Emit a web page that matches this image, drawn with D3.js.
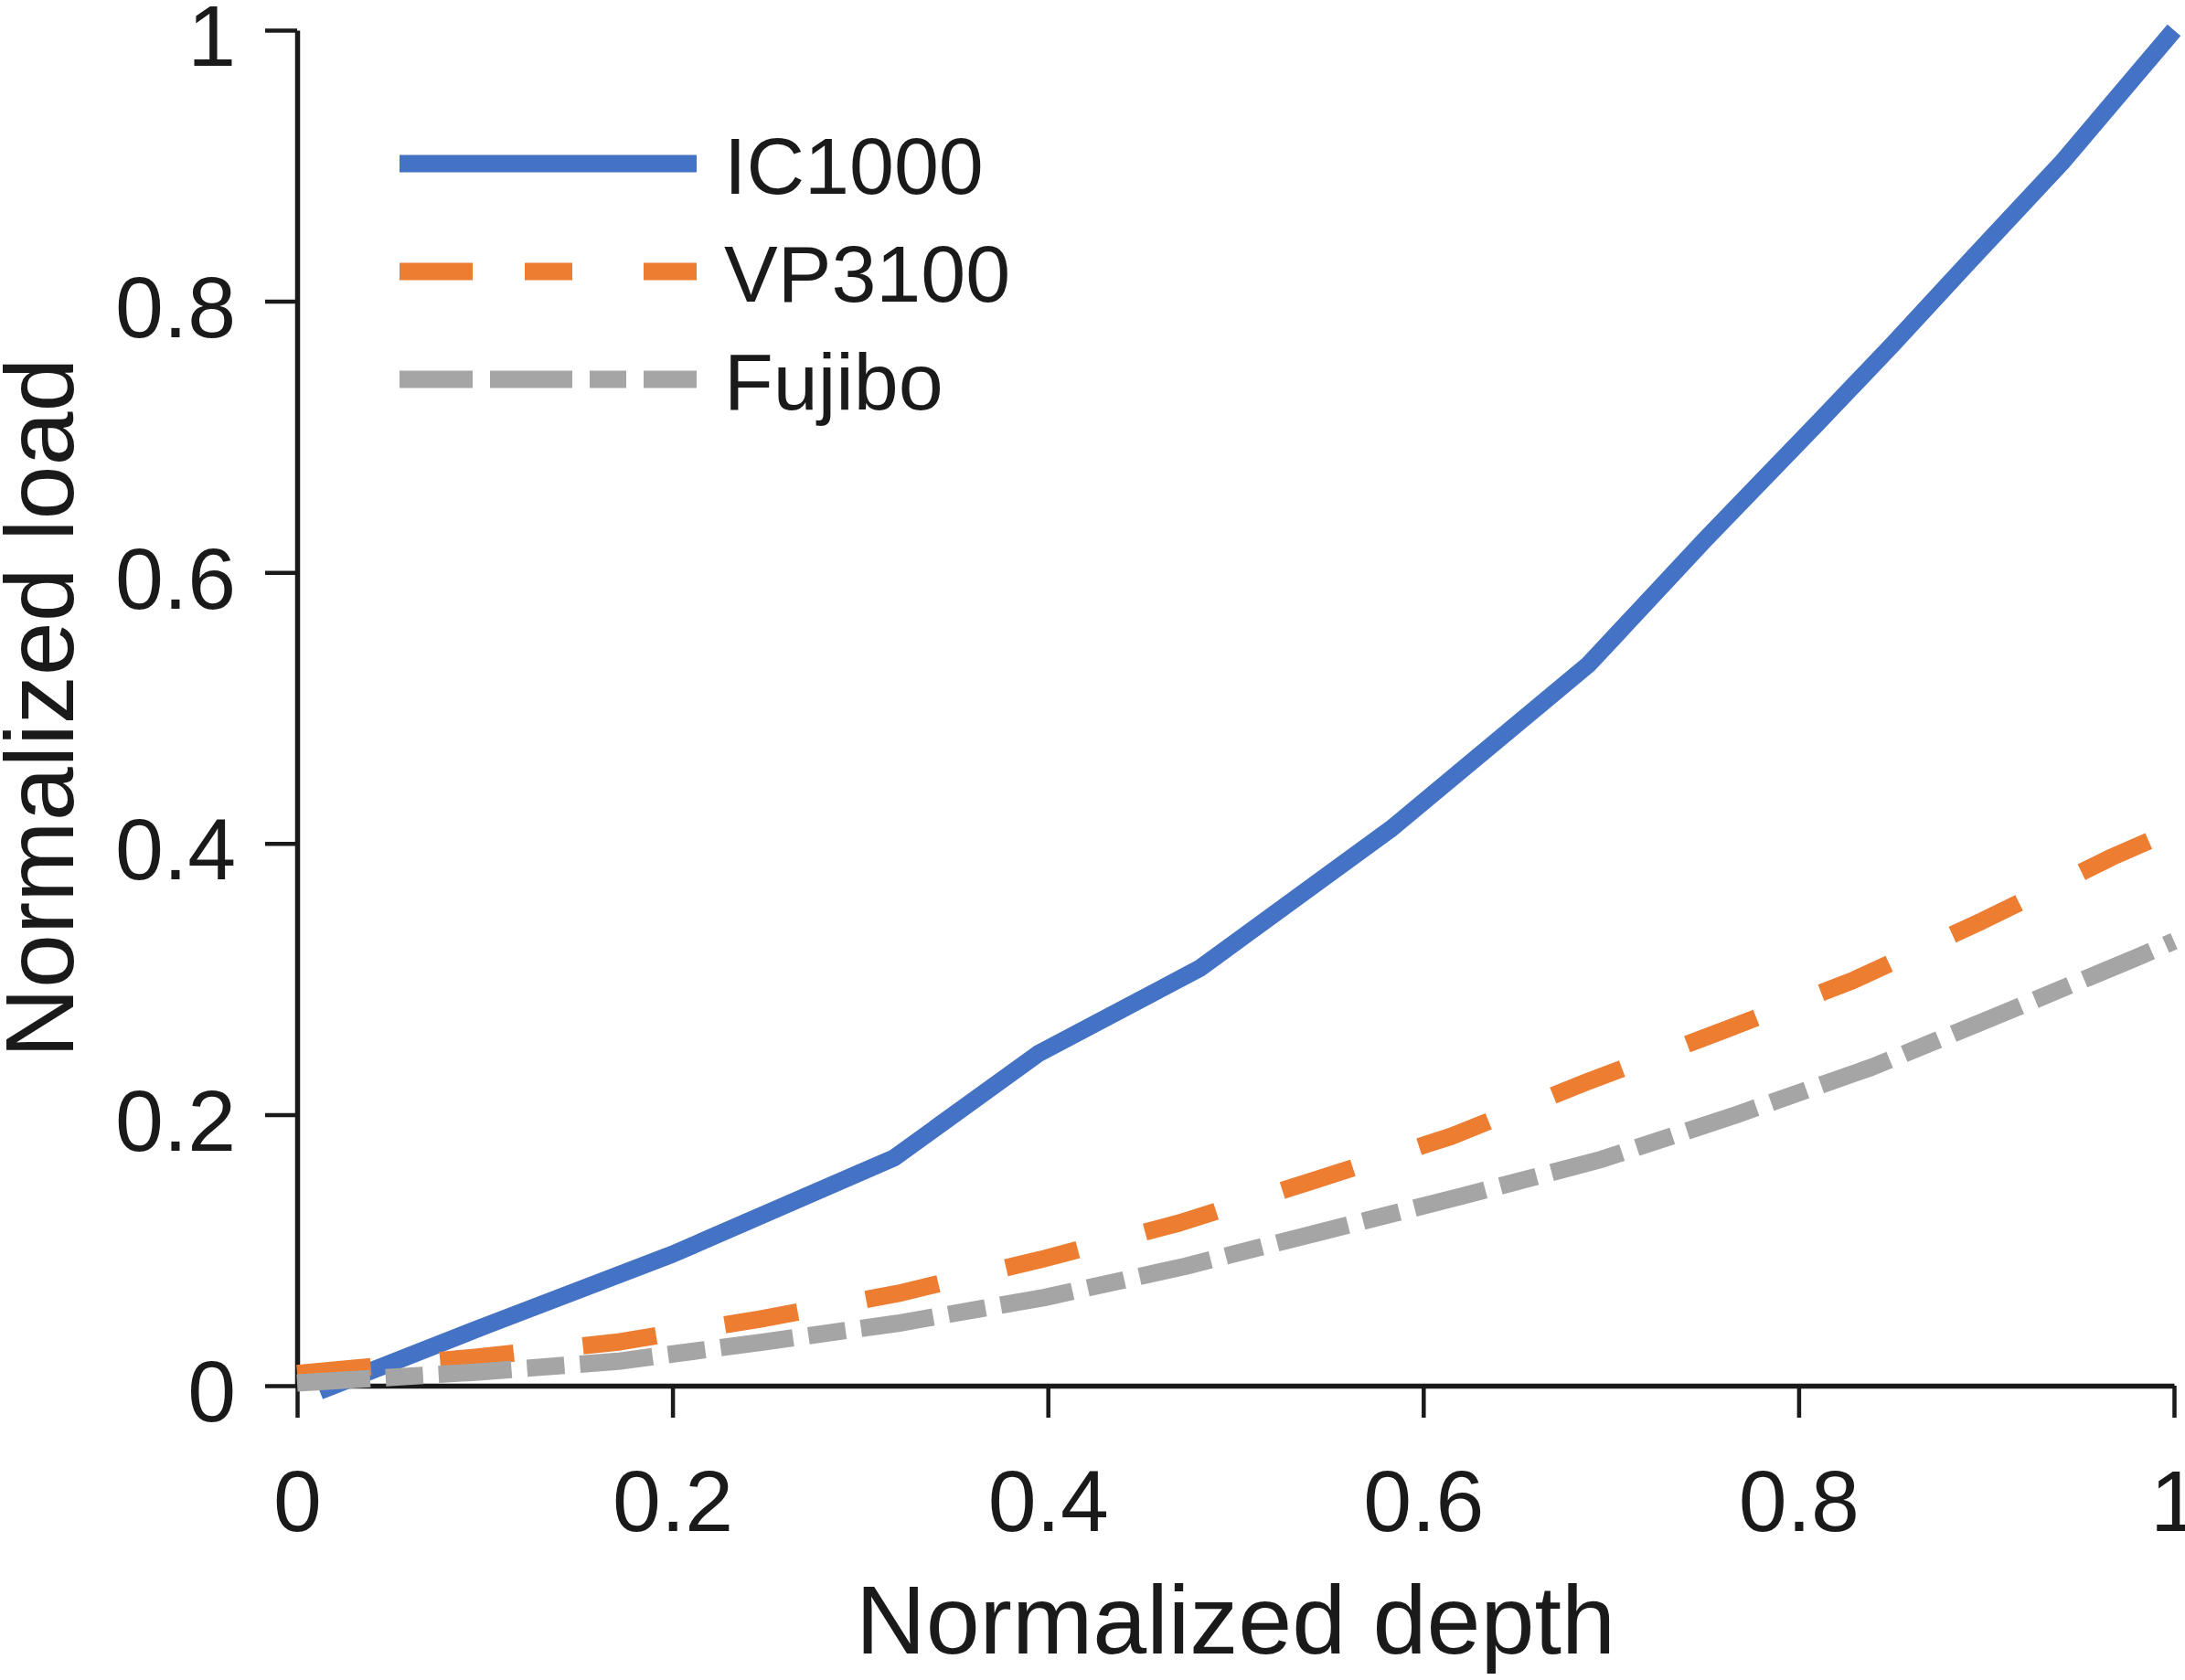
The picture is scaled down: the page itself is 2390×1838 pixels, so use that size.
<!DOCTYPE html>
<html lang="en">
<head>
  <meta charset="UTF-8">
  <title>Normalized load vs depth</title>
  <script src="https://cdn.jsdelivr.net/npm/d3@7"></script>
  <style>
    body { margin: 0; background: #fff; }
    svg { display: block; font-family: "Liberation Sans", Arial, sans-serif; }
  </style>
</head>
<body>
<svg></svg>
<script>
  const width = 2390, height = 1838
  const margin = {top: 33, right: 12, bottom: 322, left: 325}

  // data
  const seriesNames = ['IC1000', 'VP3100', 'Fujibo']
  const ic1000Depth = [0.012, 0.1, 0.2, 0.318, 0.395, 0.481, 0.583, 0.688, 0.75, 0.81, 0.85, 0.89, 0.94, 1.0]
  const ic1000Load  = [-0.004, 0.044, 0.097, 0.168, 0.245, 0.308, 0.411, 0.532, 0.624, 0.71, 0.768, 0.828, 0.902, 1.0]
  const vp3100Depth = [0, 0.095, 0.17, 0.246, 0.32, 0.396, 0.47, 0.543, 0.615, 0.687, 0.758, 0.829, 0.898, 0.967, 1.0]
  const vp3100Load  = [0.009, 0.021, 0.032, 0.049, 0.068, 0.093, 0.12, 0.152, 0.184, 0.224, 0.261, 0.299, 0.343, 0.39, 0.41]
  const fujiboDepth = [0, 0.095, 0.171, 0.247, 0.32, 0.398, 0.473, 0.547, 0.621, 0.695, 0.767, 0.839, 0.911, 0.982, 1.0]
  const fujiboLoad  = [0.002, 0.01, 0.018, 0.032, 0.046, 0.065, 0.088, 0.114, 0.14, 0.167, 0.2, 0.235, 0.276, 0.317, 0.328]
  const xTicks = [0, 0.2, 0.4, 0.6, 0.8, 1]
  const yTicks = [0, 0.2, 0.4, 0.6, 0.8, 1]

  const ink = '#1a1a1a'
  const series = [
    {name: seriesNames[0], xs: ic1000Depth, ys: ic1000Load, color: '#4472C4', dash: null, legendDash: null},
    {name: seriesNames[1], xs: vp3100Depth, ys: vp3100Load, color: '#ED7D31', dash: '81,76', legendDash: '80,57,52,78,63,100'},
    {name: seriesNames[2], xs: fujiboDepth, ys: fujiboLoad, color: '#A5A5A5', dash: '80,17,41,17', legendDash: '80,19,90,19,40,19,62,100'}
  ]

  const svg = d3.select('svg')
      .attr('width', width)
      .attr('height', height)
      .attr('viewBox', [0, 0, width, height])

  const x = d3.scaleLinear()
      .domain([0, 1])
      .range([margin.left, width - margin.right])

  const y = d3.scaleLinear()
      .domain([0, 1])
      .range([height - margin.bottom, margin.top])

  // x axis
  svg.append('g')
      .attr('transform', `translate(0,${y(0)})`)
      .call(d3.axisBottom(x).tickValues(xTicks).tickFormat(d3.format('~g'))
          .tickSize(35).tickSizeOuter(0).tickPadding(57))
      .call(g => g.select('.domain').attr('stroke', ink).attr('stroke-width', 5.5))
      .call(g => g.selectAll('.tick line').attr('stroke', ink).attr('stroke-width', 4.5))
      .call(g => g.selectAll('.tick text').attr('fill', ink).attr('font-size', 95).attr('font-family', '"Liberation Sans", Arial, sans-serif'))

  // y axis
  svg.append('g')
      .attr('transform', `translate(${x(0)},0)`)
      .call(d3.axisLeft(y).tickValues(yTicks).tickFormat(d3.format('~g'))
          .tickSize(35).tickSizeOuter(0).tickPadding(32))
      .call(g => g.select('.domain').attr('stroke', ink).attr('stroke-width', 5.5))
      .call(g => g.selectAll('.tick line').attr('stroke', ink).attr('stroke-width', 4.5))
      .call(g => g.selectAll('.tick text').attr('fill', ink).attr('font-size', 95).attr('dy', '0.41em').attr('font-family', '"Liberation Sans", Arial, sans-serif'))

  // axis titles
  svg.append('text')
      .attr('x', (x(0) + x(1)) / 2)
      .attr('y', 1809)
      .attr('text-anchor', 'middle')
      .attr('font-size', 106)
      .attr('fill', ink)
      .text('Normalized depth')

  svg.append('text')
      .attr('transform', `translate(80,${(y(0) + y(1)) / 2}) rotate(-90)`)
      .attr('text-anchor', 'middle')
      .attr('font-size', 106)
      .attr('fill', ink)
      .text('Normalized load')

  // lines
  const line = d3.line()
      .x(d => x(d[0]))
      .y(d => y(d[1]))

  series.forEach(s => {
    const pts = s.xs.map((v, i) => [v, s.ys[i]])
    svg.append('path')
        .attr('d', line(pts))
        .attr('fill', 'none')
        .attr('stroke', s.color)
        .attr('stroke-width', 19)
        .attr('stroke-linejoin', 'round')
        .attr('stroke-linecap', 'butt')
        .attr('stroke-dasharray', s.dash)
  })

  // legend
  const legend = svg.append('g')
      .attr('transform', 'translate(437,179)')

  series.forEach((s, i) => {
    const row = legend.append('g').attr('transform', `translate(0,${i * 118})`)
    row.append('line')
        .attr('x1', 0).attr('x2', 325)
        .attr('stroke', s.color)
        .attr('stroke-width', 19)
        .attr('stroke-dasharray', s.legendDash)
    row.append('text')
        .attr('x', 355)
        .attr('y', 33)
        .attr('font-size', 88)
        .attr('fill', ink)
        .text(s.name)
  })
</script>
</body>
</html>
